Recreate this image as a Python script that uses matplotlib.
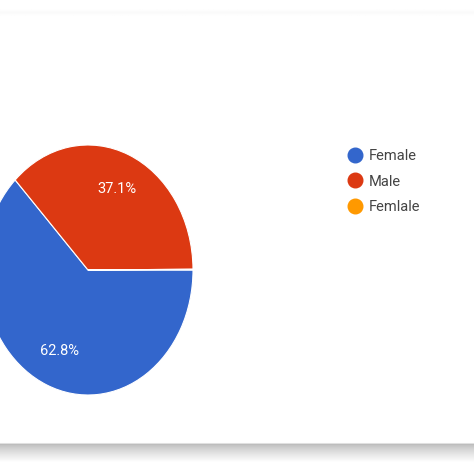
import matplotlib
matplotlib.use("Agg")
import matplotlib.pyplot as plt
import numpy as np
from matplotlib.lines import Line2D

labels = ["Female", "Male", "Femlale"]
values = [62.8, 37.1, 0.1]
colors = ["#3366cc", "#dc3912", "#ff9900"]
pct_labels = ["62.8%", "37.1%", ""]

W = H = 474
fig = plt.figure(figsize=(4.74, 4.74), dpi=100)
fig.patch.set_facecolor("white")

# background card shadow (bottom) and faint top line
bg = fig.add_axes([0, 0, 1, 1], zorder=0)
bg.set_xlim(0, W); bg.set_ylim(H, 0); bg.axis("off")
ys = np.arange(440, 466)
grad = []
for y in ys:
    if y < 443:
        v = 1.0
    elif y < 444:
        v = 0.88
    else:
        t = (y - 444) / 18.0
        v = 0.74 + (1 - 0.74) * min(1, t) ** 0.8
    grad.append(v)
grad = np.array(grad)[:, None] * np.ones((1, 2))
bg.imshow(grad, cmap="gray", vmin=0, vmax=1, extent=[0, W, 466, 440], aspect="auto")
bg.imshow(np.array([[0.995], [0.98], [0.995]]) * np.ones((1, 2)), cmap="gray", vmin=0, vmax=1,
          extent=[0, W, 16, 9], aspect="auto")

# pie axes: center (88, 270), rx=105, ry=125 px
cx, cy, rx, ry = 88, 270, 105, 125
ax = fig.add_axes([(cx - rx) / W, (H - cy - ry) / H, 2 * rx / W, 2 * ry / H], zorder=1)
wedges, _ = ax.pie(values, colors=colors, startangle=0, counterclock=False,
                   wedgeprops=dict(edgecolor="white", linewidth=0.8), radius=1.0)
ax.set_aspect("auto")
ax.set_xlim(-1, 1); ax.set_ylim(-1, 1)
ax.axis("off")

# percentage labels
start = 0.0
total = sum(values)
for v, lab in zip(values, pct_labels):
    ang = start - v / total * 360 / 2
    start -= v / total * 360
    if lab:
        r = 0.7
        ax.text(r * np.cos(np.radians(ang)), r * np.sin(np.radians(ang)), lab,
                color="white", fontsize=10.5, ha="center", va="center",
                family=["Roboto", "DejaVu Sans"])

# legend
handles = [Line2D([0], [0], marker="o", linestyle="", markersize=10.5,
                  markerfacecolor=c, markeredgecolor=c) for c in colors]
fig.legend(handles, labels, loc="upper left", bbox_to_anchor=(340 / W, 1 - 143 / H),
           frameon=False, handletextpad=0.4, labelspacing=0.8, borderaxespad=0,
           handlelength=1.2, prop=dict(family="Roboto", size=10.5), labelcolor="#444444")

fig.savefig("out.png", dpi=100, facecolor="white")
